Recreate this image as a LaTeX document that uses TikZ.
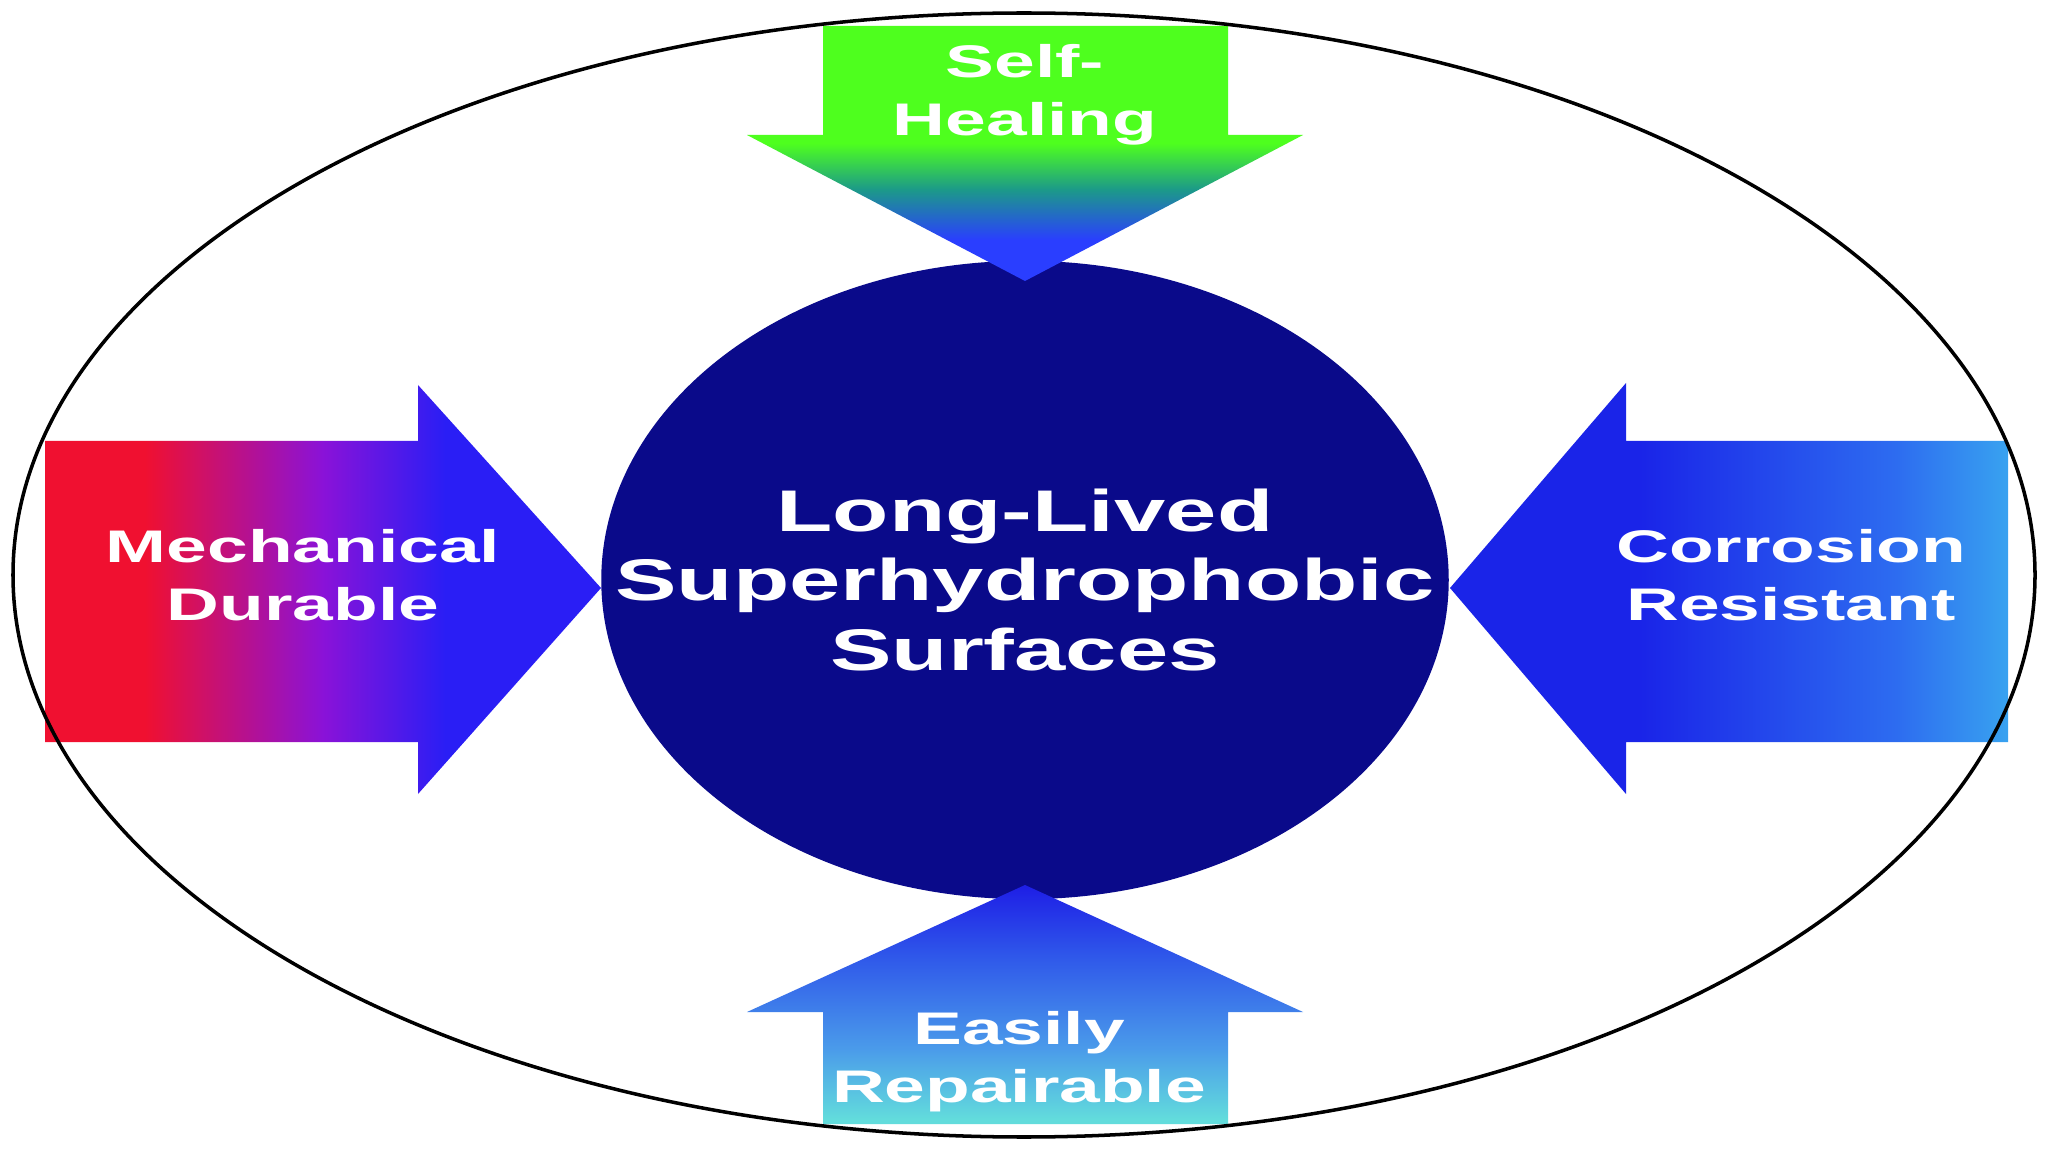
\documentclass[tikz,border=0pt]{standalone}
\usepackage{fontspec}
\setmainfont{Liberation Sans}
\usetikzlibrary{shapes.geometric}
\definecolor{navy}{HTML}{0A0A8A}
\definecolor{mechred}{HTML}{F01030}
\definecolor{mechpurple}{HTML}{8A12D8}
\definecolor{mechblue}{HTML}{2A1EF5}
\definecolor{corrblue}{HTML}{1A24E8}
\definecolor{corrmid}{HTML}{2D6CF0}
\definecolor{corrsky}{HTML}{38A2F0}
\definecolor{healgreen}{HTML}{4EFF1E}
\definecolor{healteal}{HTML}{1C9A88}
\definecolor{healblue}{HTML}{2A3EFF}
\definecolor{reptip}{HTML}{1E1EE6}
\definecolor{repmid}{HTML}{2F58EA}
\definecolor{repsky}{HTML}{4A9AEA}
\definecolor{repcyan}{HTML}{62DCDC}
% shadings (path box = 25bp..75bp)
\pgfdeclarehorizontalshading{mechshade}{100bp}{color(0bp)=(mechred); color(34bp)=(mechred); color(50bp)=(mechpurple); color(61bp)=(mechblue); color(100bp)=(mechblue)}
\pgfdeclarehorizontalshading{corrshade}{100bp}{color(0bp)=(corrblue); color(42bp)=(corrblue); color(65bp)=(corrmid); color(75bp)=(corrsky); color(100bp)=(corrsky)}
\pgfdeclareverticalshading{healshade}{100bp}{color(0bp)=(healblue); color(33bp)=(healblue); color(43bp)=(healteal); color(52bp)=(healgreen); color(100bp)=(healgreen)}
\pgfdeclareverticalshading{repshade}{100bp}{color(0bp)=(repcyan); color(26bp)=(repcyan); color(41bp)=(repsky); color(60bp)=(repmid); color(75bp)=(reptip); color(100bp)=(reptip)}

\begin{document}
\begin{tikzpicture}[x=0.01cm, y=-0.01cm,
    arrowtext/.style={text=white, align=center, xscale=1.6,
      font=\bfseries\fontsize{13}{16.5}\selectfont},
    coretext/.style={text=white, align=center, xscale=1.57,
      font=\bfseries\fontsize{16.7}{19.9}\selectfont}]
    \useasboundingbox[fill=white] (0,0) rectangle (2048,1152);

    % Outer ellipse
    \fill[white] (1024,575) ellipse (1011 and 562);

    % Central body
    \node[ellipse, fill=navy, inner sep=0, minimum width=8.47cm, minimum height=6.38cm] (core) at (1025,580) {};

    % Arrows
    \shade[shading=mechshade] (45,441) -- (418,441) -- (418,385) -- (601,588) -- (418,794) -- (418,742) -- (45,742) -- cycle;
    \shade[shading=corrshade] (2008,441) -- (1626,441) -- (1626,383) -- (1450,588) -- (1626,794) -- (1626,742) -- (2008,742) -- cycle;
    \shade[shading=healshade] (823,26) -- (1228,26) -- (1228,135) -- (1303,135) -- (1025,281) -- (747,135) -- (823,135) -- cycle;
    \shade[shading=repshade] (823,1124) -- (1228,1124) -- (1228,1012) -- (1303,1012) -- (1025,885) -- (747,1012) -- (823,1012) -- cycle;

    \draw[line width=1pt] (1024,575) ellipse (1011 and 562);

    % Labels
    \node[coretext] (title) at (core.center) {Long-Lived\\Superhydrophobic\\Surfaces};
    \node[arrowtext] (mech) at (303,575) {Mechanical\\Durable};
    \node[arrowtext] (corr) at (1791,575) {Corrosion\\Resistant};
    \node[arrowtext] (heal) at (1025,95) {Self-\\Healing};
    \node[arrowtext] (repair) at (1019,1062) {Easily\\Repairable};
\end{tikzpicture}
\end{document}
